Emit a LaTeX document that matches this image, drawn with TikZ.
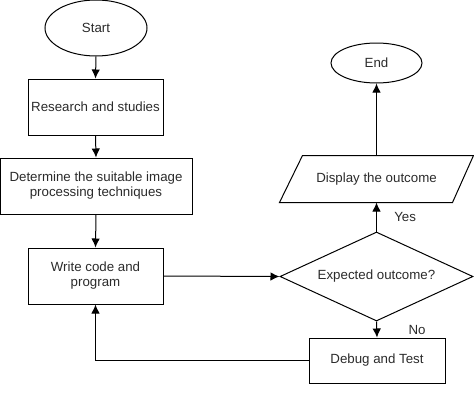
\documentclass[tikz,border=0pt]{standalone}
\usepackage{fontspec}
\setmainfont{Liberation Sans}
\usepackage{xcolor}
\usetikzlibrary{arrows.meta, shapes.geometric, calc, positioning}
\definecolor{txtgray}{HTML}{2B2B2B}
\tikzset{
  % Graph arrow style
  garr/.style={
    line width = 1pt
  },
}
\tikzset{
  % start / end node style
  term/.style={
    draw
    , ellipse
    , line width=1pt
    , inner sep=0pt
    , anchor=center
    , text centered
    , text=txtgray
    %, minimum width={10em},
    %, minimum height={2em},
  },
}
\tikzset{
  % process node style
  proc/.style={
    draw
    , rectangle
    , line width=1pt
    , inner sep=0pt
    , anchor=center
    , align=center
    , text=txtgray
    %, rounded corners
  },
}
\tikzset{
  % decision node style
  dec/.style={
    draw
    , diamond
    , aspect=2.17
    , line width=1pt
    , inner sep=0pt
    , anchor=center
    , text centered
    , text=txtgray
  },
}
\tikzset{
  % input / output node style (outline drawn after the node)
  io/.style={
    rectangle
    , inner sep=0pt
    , anchor=center
    , text centered
    , text=txtgray
    , append after command={
        (\tikzlastnode.south west)
        -- ($(\tikzlastnode.north west)+(23,0)$)
        -- (\tikzlastnode.north east)
        -- ($(\tikzlastnode.south east)+(-21,0)$)
        -- cycle
      }
  },
}

\begin{document}
\begin{tikzpicture}[x=1pt, y=-1pt
                   , every node/.style={font=\fontsize{13.3}{15}\selectfont}
                   ]
  \useasboundingbox (0,0) rectangle (474,402);
  % left column
  \node[term, minimum width=102pt, minimum height=56pt] (start) at (96,28) {Start};
  \node[proc, minimum width=135pt, minimum height=56pt] (research) at (95.5,107) {Research and studies};
  \node[proc, minimum width=192pt, minimum height=56pt] (determine) at (96,186)
    {Determine the suitable image\\processing techniques};
  \node[proc, minimum width=135pt, minimum height=56pt] (write) at (95.5,276) {Write code and\\program};
  % right column
  \node[term, minimum width=91pt, minimum height=40pt] (end) at (376.5,63) {End};
  \draw[line width=1pt] node[io, minimum width=193pt, minimum height=46pt] (display) at (376.5,179) {Display the outcome};
  \node[dec, minimum width=193pt, minimum height=89pt] (decision) at (376.5,276.5) {Expected outcome?};
  \node[proc, minimum width=136pt, minimum height=45pt] (debug) at (377,360.5) {Debug and Test};

  \draw[>={Latex[length=9pt, width=8.5pt]},->, garr]
    (start.south)
    to
    (research.north);
  \draw[>={Latex[length=9pt, width=8.5pt]},->, garr]
    (research.south)
    to
    (determine.north);
  \draw[>={Latex[length=9pt, width=8.5pt]},->, garr]
    (determine.south)
    to
    (write.north);
  \draw[>={Latex[length=9pt, width=8.5pt]},->, garr]
    (write.east)
    to
    (decision.west);
  \draw[>={Latex[length=9pt, width=8.5pt]},->, garr]
    (decision.south)
    to
    node[midway, right=28pt, text=txtgray] (no) {No}
    (debug.north);
  \draw[>={Latex[length=9pt, width=8.5pt]},->, garr]
    (debug.west)
    -|
    (write.south);
  \draw[>={Latex[length=9pt, width=8.5pt]},->, garr]
    (decision.north)
    to
    node[midway, right=14pt, text=txtgray] (yes) {Yes}
    (display.south);
  \draw[>={Latex[length=9pt, width=8.5pt]},->, garr]
    (display.north)
    to
    (end.south);
\end{tikzpicture}
\end{document}
